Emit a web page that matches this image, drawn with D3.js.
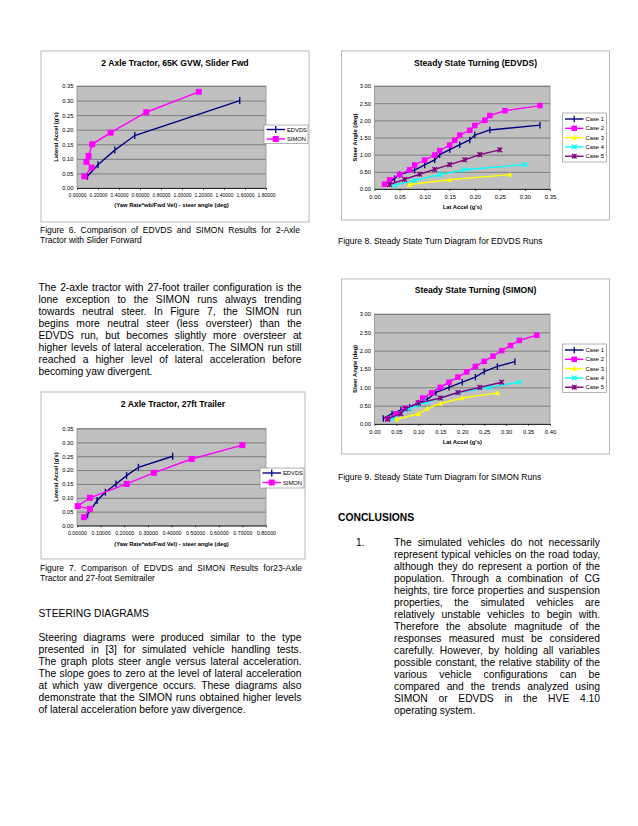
<!DOCTYPE html>
<html>
<head>
<meta charset="utf-8">
<script src="https://cdn.jsdelivr.net/npm/d3@7"></script>
<style>
body { margin: 0; background: #fff; }
svg { display: block; font-family: Arial, "Liberation Sans", sans-serif; }
</style>
</head>
<body>
<div id="app"></div>
<script>
// ---- Figure 6: 2 Axle Tractor, 65K GVW, Slider Fwd
const fig6EdvdsX = [0.10, 0.20, 0.36, 0.55, 1.55]
const fig6EdvdsY = [0.04, 0.08, 0.13, 0.18, 0.30]
const fig6SimonX = [0.07, 0.14, 0.09, 0.11, 0.145, 0.32, 0.66, 1.16]
const fig6SimonY = [0.04, 0.07, 0.09, 0.11, 0.15, 0.19, 0.26, 0.33]

// ---- Figure 7: 2 Axle Tractor, 27ft Trailer
const fig7EdvdsX = [0.045, 0.085, 0.12, 0.165, 0.21, 0.26, 0.405]
const fig7EdvdsY = [0.04, 0.09, 0.12, 0.15, 0.18, 0.21, 0.25]
const fig7SimonX = [0.03, 0.055, 0.003, 0.055, 0.21, 0.325, 0.485, 0.70]
const fig7SimonY = [0.03, 0.06, 0.07, 0.10, 0.15, 0.19, 0.24, 0.29]

// ---- Figure 8: Steady State Turning (EDVDS)
const fig8Case1X = [0.03, 0.04, 0.05, 0.08, 0.10, 0.12, 0.13, 0.15, 0.17, 0.19, 0.20, 0.23, 0.33]
const fig8Case1Y = [0.20, 0.30, 0.42, 0.55, 0.70, 0.85, 1.00, 1.15, 1.29, 1.43, 1.57, 1.72, 1.86]
const fig8Case2X = [0.02, 0.03, 0.05, 0.07, 0.08, 0.10, 0.12, 0.13, 0.15, 0.16, 0.17, 0.19, 0.20, 0.22, 0.23, 0.26, 0.33]
const fig8Case2Y = [0.14, 0.27, 0.42, 0.56, 0.70, 0.84, 0.99, 1.12, 1.28, 1.42, 1.57, 1.71, 1.85, 2.00, 2.14, 2.28, 2.43]
const fig8Case3X = [0.07, 0.15, 0.27]
const fig8Case3Y = [0.13, 0.27, 0.42]
const fig8Case4X = [0.04, 0.08, 0.13, 0.18, 0.30]
const fig8Case4Y = [0.11, 0.25, 0.42, 0.56, 0.71]
const fig8Case5X = [0.03, 0.06, 0.09, 0.12, 0.15, 0.18, 0.21, 0.25]
const fig8Case5Y = [0.13, 0.28, 0.43, 0.57, 0.71, 0.85, 1.00, 1.14]

// ---- Figure 9: Steady State Turning (SIMON)
const fig9Case1X = [0.02, 0.04, 0.06, 0.08, 0.10, 0.12, 0.14, 0.17, 0.20, 0.23, 0.25, 0.28, 0.32]
const fig9Case1Y = [0.15, 0.28, 0.38, 0.45, 0.57, 0.67, 0.86, 1.00, 1.14, 1.28, 1.43, 1.57, 1.70]
const fig9Case2X = [0.03, 0.05, 0.07, 0.10, 0.11, 0.13, 0.15, 0.17, 0.19, 0.21, 0.23, 0.25, 0.27, 0.29, 0.31, 0.33, 0.37]
const fig9Case2Y = [0.14, 0.28, 0.43, 0.57, 0.71, 0.85, 1.00, 1.14, 1.28, 1.42, 1.57, 1.71, 1.85, 2.00, 2.14, 2.28, 2.42]
const fig9Case3X = [0.05, 0.10, 0.12, 0.15, 0.20, 0.28]
const fig9Case3Y = [0.13, 0.28, 0.42, 0.56, 0.71, 0.85]
const fig9Case4X = [0.04, 0.06, 0.08, 0.10, 0.12, 0.15, 0.19, 0.26, 0.33]
const fig9Case4Y = [0.14, 0.28, 0.42, 0.52, 0.60, 0.71, 0.85, 1.00, 1.14]
const fig9Case5X = [0.03, 0.06, 0.07, 0.10, 0.15, 0.19, 0.24, 0.29]
const fig9Case5Y = [0.14, 0.28, 0.42, 0.57, 0.71, 0.86, 1.00, 1.14]

// tick labels
const yawTicks18 = d3.range(0, 1.8001, 0.2)
const yawTicks08 = d3.range(0, 0.8001, 0.1)
const accelTicks = d3.range(0, 0.3501, 0.05)
const latTicks35 = d3.range(0, 0.3501, 0.05)
const latTicks40 = d3.range(0, 0.4001, 0.05)
const steerTicks = d3.range(0, 3.0001, 0.5)

const compareNames = ['EDVDS', 'SIMON']
const caseNames = ['Case 1', 'Case 2', 'Case 3', 'Case 4', 'Case 5']

const colors = ['#000080', '#ff00ff', '#ffff00', '#00ffff', '#800080']
const markers = ['bar', 'square', 'triangle', 'cross', 'star']

const small = '5.8px'

const svg = d3.select('#app').append('svg')
    .attr('width', 638)
    .attr('height', 826)

function drawMarker(g, type, color, cx, cy, s) {
  const h = s / 2
  if (type === 'bar') {
    g.append('line').attr('x1', cx).attr('x2', cx).attr('y1', cy - h - 0.5).attr('y2', cy + h + 0.5)
      .attr('stroke', color).attr('stroke-width', 1.3)
  } else if (type === 'square') {
    g.append('rect').attr('x', cx - h).attr('y', cy - h).attr('width', s).attr('height', s)
      .attr('fill', color)
  } else if (type === 'triangle') {
    g.append('path').attr('d', `M${cx},${cy - h}L${cx + h},${cy + h * 0.8}L${cx - h},${cy + h * 0.8}Z`)
      .attr('fill', color)
  } else {
    const k = h * 0.85
    g.append('path').attr('d', `M${cx - k},${cy - k}L${cx + k},${cy + k}M${cx - k},${cy + k}L${cx + k},${cy - k}`)
      .attr('stroke', color).attr('stroke-width', 1.3)
    if (type === 'star') {
      g.append('line').attr('x1', cx).attr('x2', cx).attr('y1', cy - k).attr('y2', cy + k)
        .attr('stroke', color).attr('stroke-width', 1.3)
    }
  }
}

function drawChart(cfg) {
  const g = svg.append('g')
  const [fx0, fy0, fx1, fy1] = cfg.frame
  const [px0, py0, px1, py1] = cfg.plot

  g.append('rect')
      .attr('x', fx0).attr('y', fy0)
      .attr('width', fx1 - fx0).attr('height', fy1 - fy0)
      .attr('fill', '#fff').attr('stroke', '#a8a8a8').attr('stroke-width', 0.8)

  g.append('text')
      .attr('x', (fx0 + fx1) / 2).attr('y', cfg.titleY).attr('dy', '0.35em')
      .attr('text-anchor', 'middle')
      .style('font-size', '8.6px').style('font-weight', 'bold')
      .text(cfg.title)

  const x = d3.scaleLinear().domain(cfg.xDomain).range([px0, px1])
  const y = d3.scaleLinear().domain(cfg.yDomain).range([py1, py0])

  g.append('rect')
      .attr('x', px0).attr('y', py0)
      .attr('width', px1 - px0).attr('height', py1 - py0)
      .attr('fill', '#c0c0c0')

  // y gridlines + labels
  const yAxis = g.append('g')
      .attr('transform', `translate(${px0},0)`)
      .call(d3.axisLeft(y).tickValues(cfg.yTicks).tickFormat(d3.format('.2f'))
        .tickSizeInner(-(px1 - px0)).tickSizeOuter(0).tickPadding(3.5))
  yAxis.select('.domain').remove()
  yAxis.selectAll('line').attr('stroke', '#505050').attr('stroke-width', 0.6)
  yAxis.selectAll('text').style('font-size', small).attr('fill', '#000')

  g.append('rect')
      .attr('x', px0).attr('y', py0)
      .attr('width', px1 - px0).attr('height', py1 - py0)
      .attr('fill', 'none').attr('stroke', '#808080').attr('stroke-width', 0.7)

  const xAxis = g.append('g')
      .attr('transform', `translate(0,${py1})`)
      .call(d3.axisBottom(x).tickValues(cfg.xTicks).tickFormat(d3.format(cfg.xFormat))
        .tickSizeInner(2).tickSizeOuter(0).tickPadding(3.5))
  xAxis.select('.domain').attr('stroke', '#000').attr('stroke-width', 0.7)
  xAxis.selectAll('line').attr('stroke', '#000').attr('stroke-width', 0.6)
  xAxis.selectAll('text').style('font-size', cfg.xTickSize || small).attr('fill', '#000')

  g.append('text')
      .attr('x', (px0 + px1) / 2).attr('y', cfg.xTitleY).attr('dy', '0.35em')
      .attr('text-anchor', 'middle')
      .style('font-size', small).style('font-weight', 'bold')
      .text(cfg.xTitle)

  g.append('text')
      .attr('transform', `translate(${cfg.yTitleX},${(py0 + py1) / 2}) rotate(-90)`)
      .attr('dy', '0.35em')
      .attr('text-anchor', 'middle')
      .style('font-size', small).style('font-weight', 'bold')
      .text(cfg.yTitle)

  const line = d3.line().x(d => x(d[0])).y(d => y(d[1]))

  cfg.series.forEach((s, i) => {
    const pts = s.xs.map((v, j) => [v, s.ys[j]])
    g.append('path')
        .attr('d', line(pts))
        .attr('fill', 'none')
        .attr('stroke', colors[i])
        .attr('stroke-width', 1.4)
    const mg = g.append('g')
    pts.forEach(p => drawMarker(mg, markers[i], colors[i], x(p[0]), y(p[1]), cfg.markerSize))
  })

  // legend
  const [lx0, ly0, lx1, ly1] = cfg.legend
  g.append('rect')
      .attr('x', lx0).attr('y', ly0)
      .attr('width', lx1 - lx0).attr('height', ly1 - ly0)
      .attr('fill', '#fff').attr('stroke', '#808080').attr('stroke-width', 0.6)
  cfg.series.forEach((s, i) => {
    const ly = cfg.legendY[i]
    g.append('line')
        .attr('x1', lx0 + 2.5).attr('x2', lx0 + 21)
        .attr('y1', ly).attr('y2', ly)
        .attr('stroke', colors[i]).attr('stroke-width', 1.4)
    drawMarker(g, markers[i], colors[i], lx0 + 11.75, ly, cfg.markerSize)
    g.append('text')
        .attr('x', lx0 + 23).attr('y', ly).attr('dy', '0.35em')
        .style('font-size', small)
        .text(s.name)
  })
}

drawChart({
  frame: [41, 51, 309, 222], plot: [77, 86, 266, 188],
  title: '2 Axle Tractor, 65K GVW, Slider Fwd', titleY: 63,
  xDomain: [0, 1.8], yDomain: [0, 0.35], xTicks: yawTicks18, yTicks: accelTicks, xFormat: '.5f',
  xTickSize: '5px',
  xTitle: '(Yaw Rate*wb/Fwd Vel) - steer angle (deg)', xTitleY: 205,
  yTitle: "Lateral Accel (g's)", yTitleX: 56,
  markerSize: 6,
  series: [
    {name: compareNames[0], xs: fig6EdvdsX, ys: fig6EdvdsY},
    {name: compareNames[1], xs: fig6SimonX, ys: fig6SimonY}
  ],
  legend: [264, 125, 308, 143.5], legendY: [129.5, 139]
})

drawChart({
  frame: [41, 392, 305, 559], plot: [77, 428.5, 266, 525.5],
  title: '2 Axle Tractor, 27ft Trailer', titleY: 403.5,
  xDomain: [0, 0.8], yDomain: [0, 0.35], xTicks: yawTicks08, yTicks: accelTicks, xFormat: '.5f',
  xTickSize: '5.3px',
  xTitle: '(Yaw Rate*wb/Fwd Vel) - steer angle (deg)', xTitleY: 544,
  yTitle: "Lateral Accel (g's)", yTitleX: 56,
  markerSize: 6,
  series: [
    {name: compareNames[0], xs: fig7EdvdsX, ys: fig7EdvdsY},
    {name: compareNames[1], xs: fig7SimonX, ys: fig7SimonY}
  ],
  legend: [260, 468, 304, 488], legendY: [473, 482.5]
})

drawChart({
  frame: [341.5, 51, 609.5, 220], plot: [374.5, 86, 550, 189],
  title: 'Steady State Turning (EDVDS)', titleY: 63,
  xDomain: [0, 0.35], yDomain: [0, 3], xTicks: latTicks35, yTicks: steerTicks, xFormat: '.2f',
  xTitle: "Lat Accel (g's)", xTitleY: 206.5,
  yTitle: 'Steer Angle (deg)', yTitleX: 355,
  markerSize: 5.5,
  series: [
    {name: caseNames[0], xs: fig8Case1X, ys: fig8Case1Y},
    {name: caseNames[1], xs: fig8Case2X, ys: fig8Case2Y},
    {name: caseNames[2], xs: fig8Case3X, ys: fig8Case3Y},
    {name: caseNames[3], xs: fig8Case4X, ys: fig8Case4Y},
    {name: caseNames[4], xs: fig8Case5X, ys: fig8Case5Y}
  ],
  legend: [562.5, 113, 606.5, 162], legendY: [119, 128.3, 137.6, 146.9, 156.2]
})

drawChart({
  frame: [341.5, 279, 609.5, 454], plot: [374.5, 314, 550, 424],
  title: 'Steady State Turning (SIMON)', titleY: 290,
  xDomain: [0, 0.4], yDomain: [0, 3], xTicks: latTicks40, yTicks: steerTicks, xFormat: '.2f',
  xTitle: "Lat Accel (g's)", xTitleY: 441.5,
  yTitle: 'Steer Angle (deg)', yTitleX: 354.5,
  markerSize: 5.5,
  series: [
    {name: caseNames[0], xs: fig9Case1X, ys: fig9Case1Y},
    {name: caseNames[1], xs: fig9Case2X, ys: fig9Case2Y},
    {name: caseNames[2], xs: fig9Case3X, ys: fig9Case3Y},
    {name: caseNames[3], xs: fig9Case4X, ys: fig9Case4Y},
    {name: caseNames[4], xs: fig9Case5X, ys: fig9Case5Y}
  ],
  legend: [562.5, 344, 606.5, 392.5], legendY: [350, 359.3, 368.6, 377.9, 387.2]
})

// ---- page text
function textBlock(lines, x, y0, lh, w, size, weight) {
  lines.forEach((str, i) => {
    const s = str.replace(/ +/g, ' ')
    const t = svg.append('text')
        .attr('x', x).attr('y', y0 + i * lh).attr('dy', '0.35em')
        .style('font-size', size + 'px')
        .style('font-weight', weight || 'normal')
        .text(s)
    if (w && i < lines.length - 1) {
      const len = t.node().getComputedTextLength()
      const n = (s.match(/ /g) || []).length
      if (n) t.attr('word-spacing', (w - len) / n)
    }
  })
}

textBlock(['Figure 6.  Comparison of EDVDS and SIMON Results for 2-Axle',
  'Tractor with Slider Forward'], 40, 230.5, 10, 260, 8.5)

textBlock(['Figure 8.  Steady State Turn Diagram for EDVDS Runs'], 338, 241.5, 10, 0, 8.5)
textBlock(['Figure 9.  Steady State Turn Diagram for SIMON Runs'], 338, 477.5, 10, 0, 8.5)

textBlock(['The 2-axle tractor with 27-foot trailer configuration is the',
  'lone exception to the SIMON runs always trending',
  'towards neutral steer.  In Figure 7, the SIMON run',
  'begins more neutral steer (less oversteer) than the',
  'EDVDS run, but becomes slightly more oversteer at',
  'higher levels of lateral acceleration.  The SIMON run still',
  'reached a higher level of lateral acceleration before',
  'becoming yaw divergent.'], 38.5, 287, 12.1, 263, 10.3)

textBlock(['Figure 7.  Comparison of EDVDS and SIMON Results for23-Axle',
  'Tractor and 27-foot Semitrailer'], 40, 568, 10, 262, 8.5)

textBlock(['STEERING DIAGRAMS'], 38.5, 613.5, 12, 0, 10.3)

textBlock(['Steering diagrams were produced similar to the type',
  'presented in [3] for simulated vehicle handling tests.',
  'The graph plots steer angle versus lateral acceleration.',
  'The slope goes to zero at the level of lateral acceleration',
  'at which yaw divergence occurs.  These diagrams also',
  'demonstrate that the SIMON runs obtained higher levels',
  'of lateral acceleration before yaw divergence.'], 38.5, 637.5, 11.95, 263, 10.3)

textBlock(['CONCLUSIONS'], 338, 517, 12, 0, 10.3, 'bold')
textBlock(['1.'], 356, 542.5, 12, 0, 10.3)

textBlock(['The simulated vehicles do not necessarily',
  'represent typical vehicles on the road today,',
  'although they do represent a portion of the',
  'population.  Through a combination of CG',
  'heights, tire force properties and suspension',
  'properties, the simulated vehicles are',
  'relatively unstable vehicles to begin with.',
  'Therefore the absolute magnitude of the',
  'responses measured must be considered',
  'carefully.   However, by holding all variables',
  'possible constant, the relative stability of the',
  'various vehicle configurations can be',
  'compared and the trends analyzed using',
  'SIMON or EDVDS in the HVE 4.10',
  'operating system.'], 394, 542.5, 11.97, 206, 10.3)
</script>
</body>
</html>
